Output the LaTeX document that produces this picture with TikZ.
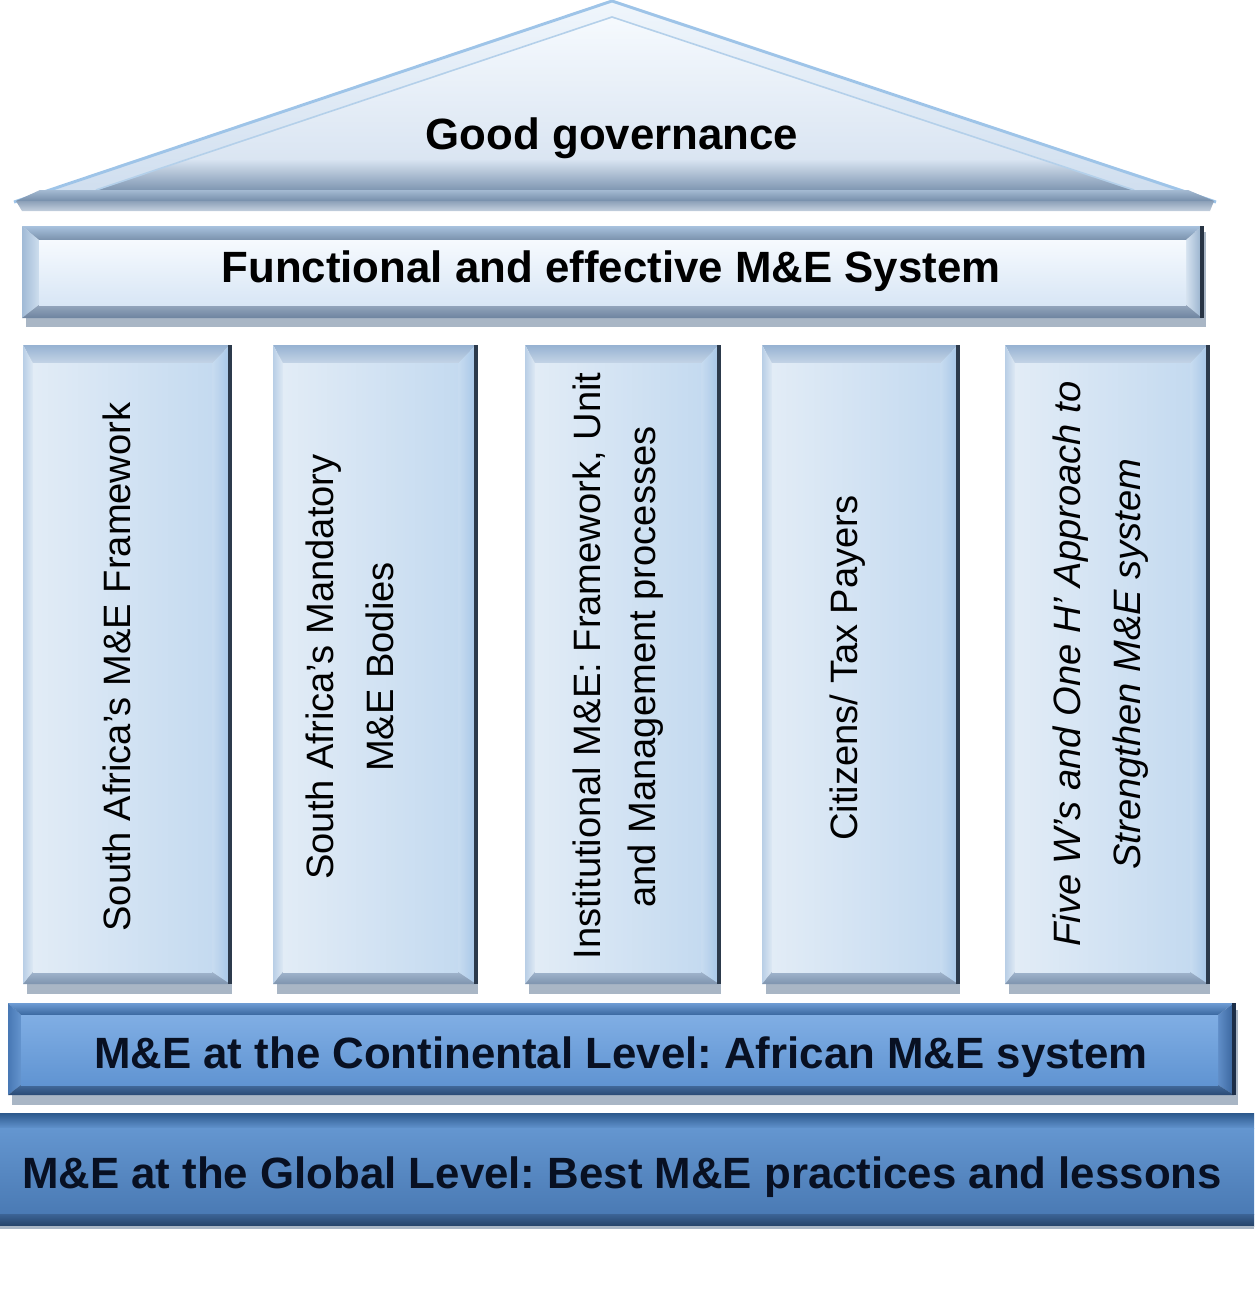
\documentclass[tikz,border=0pt]{standalone}
\usepackage{fontspec}
\setmainfont{Liberation Sans}
\frenchspacing
\definecolor{shd}{HTML}{A9B6C5}
\newcommand\bevbox[9]{%
  \path[#9T] (#1,#2)--(#3,#2)--(#7,#6)--(#5,#6)--cycle;
  \path[#9L] (#1,#2)--(#5,#6)--(#5,#8)--(#1,#4)--cycle;
  \path[#9R] (#3,#2)--(#3,#4)--(#7,#8)--(#7,#6)--cycle;
  \path[#9B] (#1,#4)--(#5,#8)--(#7,#8)--(#3,#4)--cycle;
  \path[#9C] (#5,#6) rectangle (#7,#8);
  \draw[#9E] (#3,#2)--(#3,#4);
}
\tikzset{
  plT/.style={top color={rgb,255:red,150;green,178;blue,210}, bottom color={rgb,255:red,196;green,212;blue,230}},
  plL/.style={left color={rgb,255:red,184;green,206;blue,230}, right color={rgb,255:red,222;green,233;blue,244}},
  plR/.style={left color={rgb,255:red,200;green,220;blue,240}, right color={rgb,255:red,166;green,198;blue,232}},
  plB/.style={top color={rgb,255:red,160;green,180;blue,204}, bottom color={rgb,255:red,126;green,148;blue,174}},
  plC/.style={left color={rgb,255:red,226;green,236;blue,246}, middle color={rgb,255:red,242;green,247;blue,252}, right color={rgb,255:red,196;green,218;blue,240}},
  plE/.style={draw={rgb,255:red,44;green,58;blue,76}, line width=3},
  bmT/.style={top color={rgb,255:red,168;green,194;blue,222}, bottom color={rgb,255:red,122;green,145;blue,172}},
  bmL/.style={left color={rgb,255:red,160;green,186;blue,214}, right color={rgb,255:red,206;green,222;blue,238}},
  bmR/.style={left color={rgb,255:red,214;green,227;blue,240}, right color={rgb,255:red,150;green,176;blue,204}},
  bmB/.style={top color={rgb,255:red,148;green,166;blue,188}, bottom color={rgb,255:red,110;green,132;blue,160}},
  bmC/.style={top color={rgb,255:red,246;green,250;blue,254}, bottom color={rgb,255:red,216;green,230;blue,245}},
  bmE/.style={draw={rgb,255:red,40;green,52;blue,68}, line width=3},
  ctT/.style={top color={rgb,255:red,110;green,156;blue,212}, bottom color={rgb,255:red,58;green,104;blue,160}},
  ctL/.style={left color={rgb,255:red,72;green,120;blue,180}, right color={rgb,255:red,100;green,148;blue,206}},
  ctR/.style={left color={rgb,255:red,96;green,142;blue,200}, right color={rgb,255:red,56;green,100;blue,156}},
  ctB/.style={top color={rgb,255:red,66;green,106;blue,156}, bottom color={rgb,255:red,42;green,74;blue,116}},
  ctC/.style={top color={rgb,255:red,128;green,174;blue,228}, bottom color={rgb,255:red,96;green,148;blue,210}},
  ctE/.style={draw={rgb,255:red,28;green,46;blue,72}, line width=3},
}
\begin{document}
\begin{tikzpicture}[x=0.75pt,y=-0.75pt,
  bigtxt/.style={font=\fontsize{32.85}{38}\selectfont\bfseries, inner sep=0pt, anchor=base},
  coltxt/.style={font=\fontsize{28.6}{34}\selectfont, rotate=90, anchor=base, inner sep=0pt},
  itxt/.style={coltxt, font=\fontsize{28.6}{34}\selectfont\itshape},
]
\useasboundingbox (0,0) rectangle (1254,1295);

% ---------- roof ----------
\path[top color={rgb,255:red,240;green,246;blue,252}, bottom color={rgb,255:red,206;green,221;blue,238}]
  (612,0)--(1216,203)--(14,203)--cycle;
\draw[draw={rgb,255:red,158;green,196;blue,232}, line width=2.2] (14,202)--(612,1)--(1216,202);
\begin{scope}
  \clip (612,17)--(1134,190)--(96,190)--cycle;
  \shade[top color={rgb,255:red,249;green,252;blue,255}, bottom color={rgb,255:red,218;green,229;blue,242}] (0,0) rectangle (1254,160);
  \shade[top color={rgb,255:red,218;green,229;blue,242}, bottom color={rgb,255:red,124;green,148;blue,176}] (0,159) rectangle (1254,191);
\end{scope}
\draw[draw={rgb,255:red,180;green,208;blue,234}, line width=1.2] (96,190)--(612,17)--(1134,190);
\shade[top color={rgb,255:red,164;green,186;blue,210}, bottom color={rgb,255:red,118;green,142;blue,170}]
  (16,201)--(40,190)--(1188,190)--(1214,201)--cycle;
\shade[top color={rgb,255:red,140;green,160;blue,184}, bottom color={rgb,255:red,196;green,208;blue,222}]
  (16,201)--(1214,201)--(1210,211)--(22,211)--cycle;
\node[bigtxt] (roof) at (612,149) {Good governance};

% ---------- beam ----------
\fill[shd] (26,232) rectangle (1206,327);
\bevbox{22}{226}{1202}{318}{39}{240}{1186}{305}{bm}
\node[bigtxt] (beam) at (611,282) {Functional and effective M\&E System};

% ---------- pillars ----------
\foreach \a/\b in {23/230, 273/476, 525/719, 762/958, 1005/1208}{
  \fill[shd] (\a+4,351) rectangle (\b+2,994);
  \bevbox{\a}{345}{\b}{984}{\a+10}{363}{\b-18}{972}{pl}
}
\node[coltxt] (p1) at (130,667) {South Africa’s M\&E Framework};
\node[coltxt] (p2a) at (333,667) {South Africa’s Mandatory};
\node[coltxt] (p2b) at (393,667) {M\&E Bodies};
\node[coltxt] (p3a) at (600,666) {Institutional M\&E: Framework, Unit};
\node[coltxt] (p3b) at (655,667) {and Management processes};
\node[coltxt] (p4) at (857,668) {Citizens/ Tax Payers};
\node[itxt] (p5a) at (1080,664) {Five W’s and One H’ Approach to};
\node[itxt] (p5b) at (1140,664) {Strengthen M\&E system};

% ---------- continental ----------
\fill[shd] (12,1010) rectangle (1238,1105);
\bevbox{8}{1003}{1234}{1095}{21}{1015}{1218}{1085}{ct}
\node[bigtxt, text={rgb,255:red,8;green,16;blue,34}] (cont) at (621,1068) {M\&E at the Continental Level: African M\&E system};

% ---------- global ----------
\shade[top color={rgb,255:red,44;green,88;blue,140}, bottom color={rgb,255:red,96;green,146;blue,204}] (0,1113) rectangle (1254,1128);
\shade[top color={rgb,255:red,100;green,150;blue,208}, bottom color={rgb,255:red,74;green,122;blue,180}] (0,1128) rectangle (1254,1214);
\shade[top color={rgb,255:red,60;green,100;blue,150}, bottom color={rgb,255:red,36;green,66;blue,104}] (0,1214) rectangle (1254,1226);
\fill[shd] (0,1226) rectangle (1254,1229);
\node[bigtxt, text={rgb,255:red,8;green,16;blue,34}] (glob) at (622,1188) {M\&E at the Global Level: Best M\&E practices and lessons};
\end{tikzpicture}
\end{document}
